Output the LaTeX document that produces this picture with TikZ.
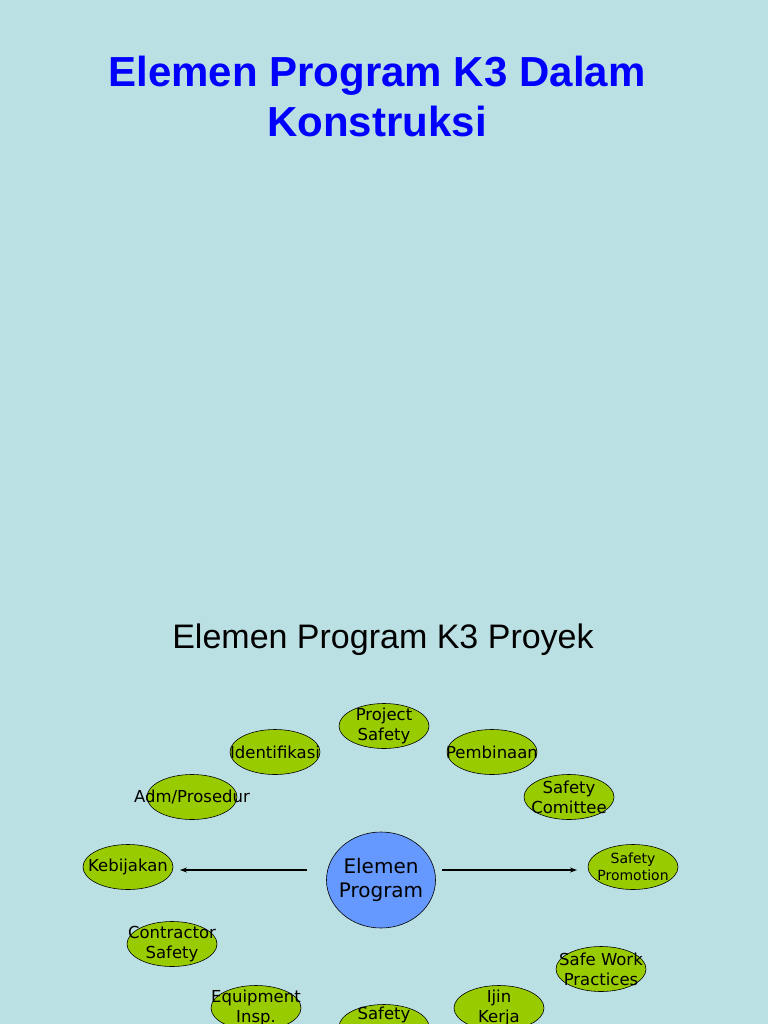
\documentclass[tikz,border=0pt]{standalone}
\usepackage{fontspec}
\setmainfont{Liberation Sans}
\newfontfamily\dv{DejaVu Sans}
\usetikzlibrary{shapes.geometric,arrows.meta}
\definecolor{bg}{HTML}{BBE0E3}
\definecolor{ttl}{HTML}{0000FF}
\definecolor{grn}{HTML}{99CC00}
\definecolor{blu}{HTML}{6699FF}
\tikzset{
 el/.style={ellipse,draw=black,line width=0.6pt,fill=grn,minimum width=90pt,minimum height=45pt,inner sep=0pt},
 lab/.style={align=center,font=\dv\fontsize{16.5}{20}\selectfont,inner sep=0pt},
 arr/.style={-{Stealth[length=7pt,width=5pt]},line width=1.8pt}
}
\begin{document}
\begin{tikzpicture}[x=1pt,y=-1pt]
\clip (0,0) rectangle (768,1024);
\fill[bg] (0,0) rectangle (768,1024);
\node[font=\bfseries\fontsize{42}{50}\selectfont,text=ttl,align=center] (title) at (377,96) {Elemen Program K3 Dalam\\Konstruksi};
\node[font=\fontsize{34}{40}\selectfont] (sub) at (383,640) {Elemen Program K3 Proyek};
\node[ellipse,draw=black,line width=0.6pt,fill=blu,minimum width=109pt,minimum height=96pt,inner sep=0pt] (c) at (381,880) {};
\node[align=center,font=\dv\fontsize{20}{24}\selectfont] at (c) {Elemen\\Program};
\node[el] (ps) at (384,726) {}; \node[lab] at (ps) {Project\\Safety};
\node[el] (id) at (275,752) {}; \node[lab] at (id) {Identifikasi};
\node[el] (pb) at (492,752) {}; \node[lab] at (pb) {Pembinaan};
\node[el] (ad) at (192,797) {}; \node[lab] at (ad) {Adm/Prosedur};
\node[el] (sc) at (569,797) {}; \node[lab] at (sc) {Safety\\Comittee};
\node[el] (kb) at (128,867) {}; \node[lab] at (kb) {Kebijakan};
\node[el] (sp) at (633,867) {}; \node[lab,font=\dv\fontsize{14}{17}\selectfont] at (sp) {Safety\\Promotion};
\node[el] (cs) at (172,944) {}; \node[lab] at (cs) {Contractor\\Safety};
\node[el] (sw) at (601,969) {}; \node[lab] at (sw) {Safe Work\\Practices};
\node[el] (eq) at (256,1008) {}; \node[lab] at (eq) {Equipment\\Insp.};
\node[el] (sf) at (384,1027) {}; \node[lab,anchor=north] at (384,1007) {Safety};
\node[el] (ij) at (499,1008) {}; \node[lab] at (ij) {Ijin\\Kerja};
\coordinate (a1) at (307,870);
\coordinate (e1) at (180,870);
\coordinate (a2) at (442,870);
\coordinate (e2) at (577,870);
\draw[arr] (a1) -- (e1);
\draw[arr] (a2) -- (e2);
\end{tikzpicture}
\end{document}
